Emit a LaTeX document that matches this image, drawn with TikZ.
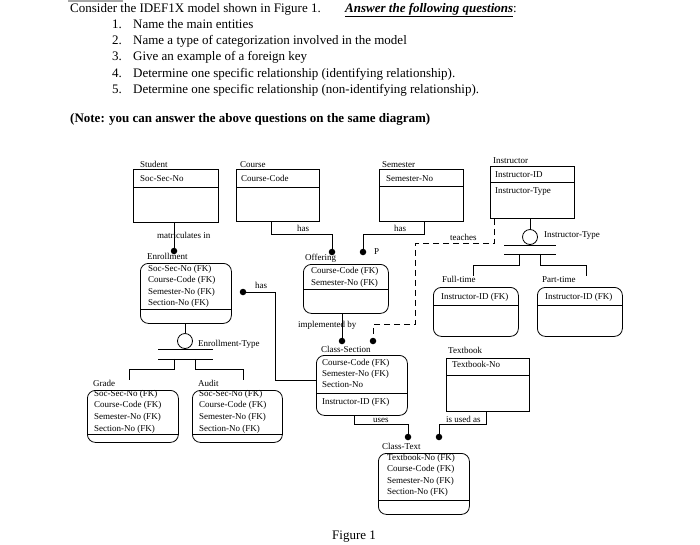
\documentclass[tikz,border=0pt]{standalone}
\usepackage{fontspec}
\setmainfont{Liberation Serif}
\begin{document}
\begin{tikzpicture}[x=1pt,y=-1pt,
  ent/.style={draw, line width=0.8pt, inner sep=0pt, anchor=north west},
  dep/.style={ent, rounded corners=8pt},
  txt/.style={anchor=base west, inner sep=0pt, font=\fontsize{9}{11}\selectfont},
  head/.style={anchor=base west, inner sep=0pt, font=\fontsize{13}{16}\selectfont},
  dot/.style={circle, fill, inner sep=0pt, minimum size=6.5pt},
  conn/.style={line width=0.8pt},
  dconn/.style={line width=0.8pt, dash pattern=on 6pt off 4pt},
  catc/.style={circle, draw, line width=0.8pt, inner sep=0pt, minimum size=15pt},
]
\useasboundingbox (0,0) rectangle (700,544);
\fill[white] (0,0) rectangle (700,544);
\draw[gray!70, line width=1.5pt] (68,0.8) -- (123,0.8);

% ---------- header ----------
\node[head] (h1) at (70,12) {Consider the IDEF1X model shown in Figure 1.};
\node[head] (h1b) at (345,12) {\underline{\textbf{\textit{Answer the following questions}}}:};
\node[head] (n1) at (112,28.5) {1.};
\node[head] (q1) at (133,28.5) {Name the main entities};
\node[head] (n2) at (112,44.7) {2.};
\node[head] (q2) at (133,44.7) {Name a type of categorization involved in the model};
\node[head] (n3) at (112,60.9) {3.};
\node[head] (q3) at (133,60.9) {Give an example of a foreign key};
\node[head] (n4) at (112,77.1) {4.};
\node[head] (q4) at (133,77.1) {Determine one specific relationship (identifying relationship).};
\node[head] (n5) at (112,93.3) {5.};
\node[head] (q5) at (133,93.3) {Determine one specific relationship (non-identifying relationship).};
\node[head] (note) at (70,122) {\textbf{(Note: you can answer the above questions on the same diagram)}};

% ---------- entities ----------
% Student
\node[ent, minimum width=85pt, minimum height=53pt] (student) at (133,169) {};
\draw[conn] ([yshift=-18pt]student.north west) -- ([yshift=-18pt]student.north east);
\node[txt] (studentL) at (140,167) {Student};
\node[txt] (studentK) at (140,181) {Soc-Sec-No};
% Course
\node[ent, minimum width=83pt, minimum height=52pt] (course) at (236,169) {};
\draw[conn] ([yshift=-18pt]course.north west) -- ([yshift=-18pt]course.north east);
\node[txt] (courseL) at (240,167) {Course};
\node[txt] (courseK) at (241,181) {Course-Code};
% Semester
\node[ent, minimum width=84pt, minimum height=52pt] (semester) at (379,169) {};
\draw[conn] ([yshift=-17pt]semester.north west) -- ([yshift=-17pt]semester.north east);
\node[txt] (semesterL) at (382,167) {Semester};
\node[txt] (semesterK) at (386,181) {Semester-No};
% Instructor
\node[ent, minimum width=84pt, minimum height=52pt] (instructor) at (490,166) {};
\draw[conn] ([yshift=-16pt]instructor.north west) -- ([yshift=-16pt]instructor.north east);
\node[txt] (instructorL) at (493,163) {Instructor};
\node[txt] (instructorK) at (495,177) {Instructor-ID};
\node[txt] (instructorA) at (495,193) {Instructor-Type};
% Enrollment
\node[dep, minimum width=91pt, minimum height=60pt] (enrollment) at (140,263) {};
\draw[conn] ([yshift=-46pt]enrollment.north west) -- ([yshift=-46pt]enrollment.north east);
\node[txt] (enrollmentL) at (147,259) {Enrollment};
\node[txt] (enrK1) at (148,271) {Soc-Sec-No (FK)};
\node[txt] (enrK2) at (148,282.5) {Course-Code (FK)};
\node[txt] (enrK3) at (148,294) {Semester-No (FK)};
\node[txt] (enrK4) at (148,305.5) {Section-No (FK)};
% Offering
\node[dep, minimum width=85pt, minimum height=49pt] (offering) at (303,264) {};
\draw[conn] ([yshift=-25pt]offering.north west) -- ([yshift=-25pt]offering.north east);
\node[txt] (offeringL) at (305,260) {Offering};
\node[txt] (offK1) at (311,273) {Course-Code (FK)};
\node[txt] (offK2) at (311,285) {Semester-No (FK)};
% Class-Section
\node[dep, minimum width=91pt, minimum height=60pt] (classsec) at (316,355) {};
\draw[conn] ([yshift=-38pt]classsec.north west) -- ([yshift=-38pt]classsec.north east);
\node[txt] (classsecL) at (321,352) {Class-Section};
\node[txt] (csK1) at (322,365) {Course-Code (FK)};
\node[txt] (csK2) at (322,376) {Semester-No (FK)};
\node[txt] (csK3) at (322,387) {Section-No};
\node[txt] (csA1) at (322,404) {Instructor-ID (FK)};
% Full-time
\node[dep, minimum width=85pt, minimum height=49pt] (fulltime) at (433,287) {};
\draw[conn] ([yshift=-18pt]fulltime.north west) -- ([yshift=-18pt]fulltime.north east);
\node[txt] (fulltimeL) at (442,282) {Full-time};
\node[txt] (ftK) at (441,299) {Instructor-ID (FK)};
% Part-time
\node[dep, minimum width=85pt, minimum height=49pt] (parttime) at (537,287) {};
\draw[conn] ([yshift=-18pt]parttime.north west) -- ([yshift=-18pt]parttime.north east);
\node[txt] (parttimeL) at (542,282) {Part-time};
\node[txt] (ptK) at (545,299) {Instructor-ID (FK)};
% Textbook
\node[ent, minimum width=83pt, minimum height=53pt] (textbook) at (446,358) {};
\draw[conn] ([yshift=-17pt]textbook.north west) -- ([yshift=-17pt]textbook.north east);
\node[txt] (textbookL) at (448,353) {Textbook};
\node[txt] (tbK) at (452,367) {Textbook-No};
% Class-Text
\node[dep, minimum width=91pt, minimum height=61pt] (classtext) at (378,453) {};
\draw[conn] ([yshift=-47pt]classtext.north west) -- ([yshift=-47pt]classtext.north east);
\node[txt] (classtextL) at (382,449) {Class-Text};
\node[txt] (ctK1) at (387,460) {Textbook-No (FK)};
\node[txt] (ctK2) at (387,471.5) {Course-Code (FK)};
\node[txt] (ctK3) at (387,483) {Semester-No (FK)};
\node[txt] (ctK4) at (387,494.5) {Section-No (FK)};
% Grade
\node[dep, minimum width=91pt, minimum height=52pt] (grade) at (87,390) {};
\draw[conn] ([yshift=-44pt]grade.north west) -- ([yshift=-44pt]grade.north east);
\node[txt] (gradeL) at (93,386) {Grade};
\node[txt] (grK1) at (94,396) {Soc-Sec-No (FK)};
\node[txt] (grK2) at (94,407.7) {Course-Code (FK)};
\node[txt] (grK3) at (94,419.3) {Semester-No (FK)};
\node[txt] (grK4) at (94,431) {Section-No (FK)};
% Audit
\node[dep, minimum width=90pt, minimum height=52pt] (audit) at (192,390) {};
\draw[conn] ([yshift=-44pt]audit.north west) -- ([yshift=-44pt]audit.north east);
\node[txt] (auditL) at (198,386) {Audit};
\node[txt] (auK1) at (199,396) {Soc-Sec-No (FK)};
\node[txt] (auK2) at (199,407.7) {Course-Code (FK)};
\node[txt] (auK3) at (199,419.3) {Semester-No (FK)};
\node[txt] (auK4) at (199,431) {Section-No (FK)};

% ---------- relationship dots ----------
\node[dot] (dA) at (174,251) {};
\node[dot] (dB) at (332,252) {};
\node[dot] (dC) at (363,252) {};
\node[dot] (dD) at (373,341) {};
\node[dot] (dE) at (342,341) {};
\node[dot] (dF) at (243,292) {};
\node[dot] (dG) at (408,437) {};
\node[dot] (dH) at (439,437) {};

% ---------- connectors ----------
\draw[conn] (student.south -| dA) -- (dA);
\draw[conn] ([xshift=-6.5pt]course.south) -- ++(0,13) -| (dB);
\draw[conn] ([xshift=3pt]semester.south) -- ++(0,13) -| (dC);
\draw[dconn] ([xshift=4pt]instructor.south west) -- ++(0,25) -- ++(-79,0) -- ++(0,81) -| (dD);
\draw[conn] (offering.south -| dE) -- (dE);
\draw[conn] ([yshift=5pt]classsec.west) -- ++(-41,0) |- (dF);
\draw[conn] ([xshift=-7.5pt]classsec.south) -- ++(0,9) -| (dG);
\draw[conn] ([xshift=-1.5pt]textbook.south) -- ++(0,13) -| (dH);

% ---------- relationship labels ----------
\node[txt] (rA) at (157,238) {matriculates in};
\node[txt] (rB) at (297,231) {has};
\node[txt] (rC) at (394,231) {has};
\node[txt] (rP) at (374,254) {P};
\node[txt] (rD) at (450,240) {teaches};
\node[txt] (rE) at (298,327) {implemented by};
\node[txt] (rF) at (255,288) {has};
\node[txt] (rG) at (373,422) {uses};
\node[txt] (rH) at (446,422) {is used as};

% ---------- categorization: Instructor ----------
\node[catc] (cI) at (530,237) {};
\draw[conn] (instructor.south -| cI) -- (cI);
\draw[conn] ([xshift=-26pt]cI.south) -- ([xshift=26pt]cI.south);
\draw[conn] ([xshift=-26pt,yshift=-9pt]cI.south) -- ([xshift=26pt,yshift=-9pt]cI.south);
\coordinate (ftEnd) at (473,276);
\coordinate (ptEnd) at (586,276);
\draw[conn] ([xshift=-11pt,yshift=-9pt]cI.south) -- ++(0,11) -| (ftEnd);
\draw[conn] ([xshift=10pt,yshift=-9pt]cI.south) -- ++(0,11) -| (ptEnd);
\node[txt] (cIL) at (544,237) {Instructor-Type};

% ---------- categorization: Enrollment ----------
\node[catc] (cE) at (185,341) {};
\draw[conn] (enrollment.south -| cE) -- (cE);
\draw[conn] ([xshift=-27pt]cE.south) -- ([xshift=28pt]cE.south);
\draw[conn] ([xshift=-27pt,yshift=-10pt]cE.south) -- ([xshift=28pt,yshift=-10pt]cE.south);
\coordinate (grEnd) at (129,380);
\coordinate (auEnd) at (243,380);
\draw[conn] ([xshift=-11pt,yshift=-10pt]cE.south) -- ++(0,10) -| (grEnd);
\draw[conn] ([xshift=10pt,yshift=-10pt]cE.south) -- ++(0,10) -| (auEnd);
\node[txt] (cEL) at (198,346) {Enrollment-Type};

% ---------- caption ----------
\node[head] (fig) at (332,539) {Figure 1};
\end{tikzpicture}
\end{document}
